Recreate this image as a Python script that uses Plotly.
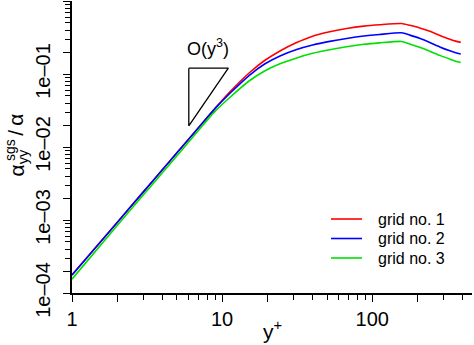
import plotly.graph_objects as go

# wall distance in wall units
yplus = [1, 2, 3, 4, 5, 6, 7, 8, 9, 11.2, 15.2, 19.2, 24.3, 31.4, 40.1, 52.1,
         67.6, 87.8, 112, 157, 178, 207, 242, 282, 329, 360, 389]

# normalised SGS diffusivity, one series per grid
grid1 = [1.76e-4, 9.26e-4, 2.447e-3, 4.877e-3, 8.32e-3, 0.01288, 0.01864,
         0.02566, 0.03407, 0.0562, 0.104, 0.153, 0.207, 0.270, 0.330, 0.378,
         0.420, 0.453, 0.473, 0.492, 0.464, 0.428, 0.384, 0.338, 0.300, 0.282,
         0.271]
grid2 = [1.76e-4, 9.26e-4, 2.447e-3, 4.877e-3, 8.32e-3, 0.01288, 0.01864,
         0.02566, 0.0338, 0.0536, 0.0961, 0.137, 0.177, 0.217, 0.250, 0.280,
         0.307, 0.331, 0.348, 0.367, 0.341, 0.308, 0.270, 0.235, 0.208, 0.195,
         0.188]
grid3 = [1.55e-4, 8.43e-4, 2.23e-3, 4.44e-3, 7.57e-3, 0.01179, 0.01715,
         0.0237, 0.0310, 0.0473, 0.0808, 0.110, 0.138, 0.166, 0.192, 0.215,
         0.236, 0.255, 0.267, 0.279, 0.258, 0.232, 0.205, 0.180, 0.160, 0.150,
         0.144]

series_names = ["grid no. 1", "grid no. 2", "grid no. 3"]
series_colors = ["#ff0000", "#0000ff", "#00e000"]

# slope indicator for the near-wall y^3 law
slope_x = [6.0, 11.0]
slope_top = 0.12
slope_order = 3

# axis ticks
x_major = [1, 2, 10, 20, 100, 200]
x_major_text = ["1", "", "10", "", "100", ""]
x_minor = [3, 4, 5, 6, 7, 8, 9, 30, 40, 50, 60, 70, 80, 90, 300, 400]
y_major = [1e-4, 2e-4, 1e-3, 2e-3, 1e-2, 2e-2, 1e-1, 2e-1, 1.0]
y_major_text = ["1e\u201304", "", "1e\u201303", "", "1e\u201302", "", "1e\u201301", "", ""]
y_minor = [m * 10.0 ** e for e in (-4, -3, -2, -1) for m in (3, 4, 5, 6, 7, 8, 9)]

FONT = "Liberation Sans, Arial, Helvetica, sans-serif"
X_RANGE = [0, 2.665]
Y_RANGE = [-4, 0]

W, H = 474, 345
ML, MR, MT, MB = 72, 2, 1, 52
PW, PH = W - ML - MR, H - MT - MB


def px(xp):
    """page pixel column -> paper x"""
    return (xp - ML) / PW


def py(yp):
    """page pixel row -> paper y"""
    return 1 - (yp - MT) / PH


fig = go.Figure()

for name, vals, col in zip(series_names, [grid1, grid2, grid3], series_colors):
    fig.add_trace(go.Scatter(
        x=yplus, y=vals, mode="lines", name=name, showlegend=False,
        line=dict(color=col, width=1.6, shape="spline", smoothing=0.6),
    ))

# right triangle showing the O(y^3) slope
x0, x1 = slope_x
bottom = slope_top * (x0 / x1) ** slope_order
fig.add_trace(go.Scatter(
    x=[x0, x1, x0, x0], y=[slope_top, slope_top, bottom, slope_top],
    mode="lines", line=dict(color="black", width=1.3), showlegend=False,
    hoverinfo="skip",
))

axis_common = dict(
    type="log", showgrid=False, zeroline=False, showline=True,
    linecolor="black", linewidth=2, tickcolor="black", tickwidth=1.3,
    tickfont=dict(family=FONT, size=20, color="black"),
)

fig.update_layout(
    width=W, height=H,
    margin=dict(l=ML, r=MR, t=MT, b=MB),
    paper_bgcolor="white", plot_bgcolor="white",
    font=dict(family=FONT, color="black"),
    showlegend=False,
    xaxis=dict(
        **axis_common, range=X_RANGE, autorange=False,
        tickmode="array", tickvals=x_major, ticktext=x_major_text,
        ticks="outside", ticklen=7,
        minor=dict(tickmode="array", tickvals=x_minor, ticks="outside",
                   ticklen=5, tickwidth=1.3, tickcolor="black"),
    ),
    yaxis=dict(
        **axis_common, range=Y_RANGE, autorange=False,
        tickmode="array", tickvals=y_major, ticktext=y_major_text,
        ticks="outside", ticklen=7, tickangle=-90, ticklabelstandoff=5,
        minor=dict(tickmode="array", tickvals=y_minor, ticks="outside",
                   ticklen=5, tickwidth=1.3, tickcolor="black"),
    ),
    xaxis2=dict(
        **axis_common, range=X_RANGE, autorange=False, overlaying="x",
        side="top", anchor="y", showticklabels=False,
        tickmode="array", tickvals=x_major, ticks="inside", ticklen=7,
        minor=dict(tickmode="array", tickvals=x_minor, ticks="inside",
                   ticklen=5, tickwidth=1.3, tickcolor="black"),
    ),
    yaxis2=dict(
        **axis_common, range=Y_RANGE, autorange=False, overlaying="y",
        side="right", anchor="x", showticklabels=False,
        tickmode="array", tickvals=y_major, ticks="inside", ticklen=7,
        minor=dict(tickmode="array", tickvals=y_minor, ticks="inside",
                   ticklen=5, tickwidth=1.3, tickcolor="black"),
    ),
)

# legend: short line sample followed by the series name
legend_rows = [219, 238.5, 258]
for name, col, row in zip(series_names, series_colors, legend_rows):
    fig.add_shape(
        type="line", xref="paper", yref="paper",
        x0=px(331), x1=px(362), y0=py(row), y1=py(row),
        line=dict(color=col, width=1.6),
    )
    fig.add_annotation(
        x=px(376), y=py(row), xref="paper", yref="paper",
        text=name, showarrow=False, xanchor="left", yanchor="middle",
        font=dict(family=FONT, size=16, color="black"),
    )

# slope label
fig.add_annotation(
    x=0.903, y=-0.642, xref="x", yref="y",
    text="O(y<sup>3</sup>)", showarrow=False,
    font=dict(family=FONT, size=18, color="black"),
    xanchor="center", yanchor="middle",
)

# x axis title
fig.add_annotation(
    x=0.5, y=py(345), xref="paper", yref="paper",
    text="y<sup>+</sup>", showarrow=False,
    font=dict(family=FONT, size=21, color="black"),
    xanchor="center", yanchor="bottom",
)

# y axis title, built from pieces so that "sgs" sits above the "yy" subscript
fig.add_annotation(
    x=px(17), y=py(178), xref="paper", yref="paper",
    text="\u03b1<sub>yy</sub>", showarrow=False, textangle=-90,
    font=dict(family=FONT, size=21, color="black"),
    xanchor="center", yanchor="bottom",
)
fig.add_annotation(
    x=px(10), y=py(163), xref="paper", yref="paper",
    text="sgs", showarrow=False, textangle=-90,
    font=dict(family=FONT, size=14, color="black"),
    xanchor="center", yanchor="bottom",
)
fig.add_annotation(
    x=px(15), y=py(142), xref="paper", yref="paper",
    text="\u2009/\u2009\u03b1", showarrow=False, textangle=-90,
    font=dict(family=FONT, size=21, color="black"),
    xanchor="center", yanchor="bottom",
)

fig.write_html("out.html")
